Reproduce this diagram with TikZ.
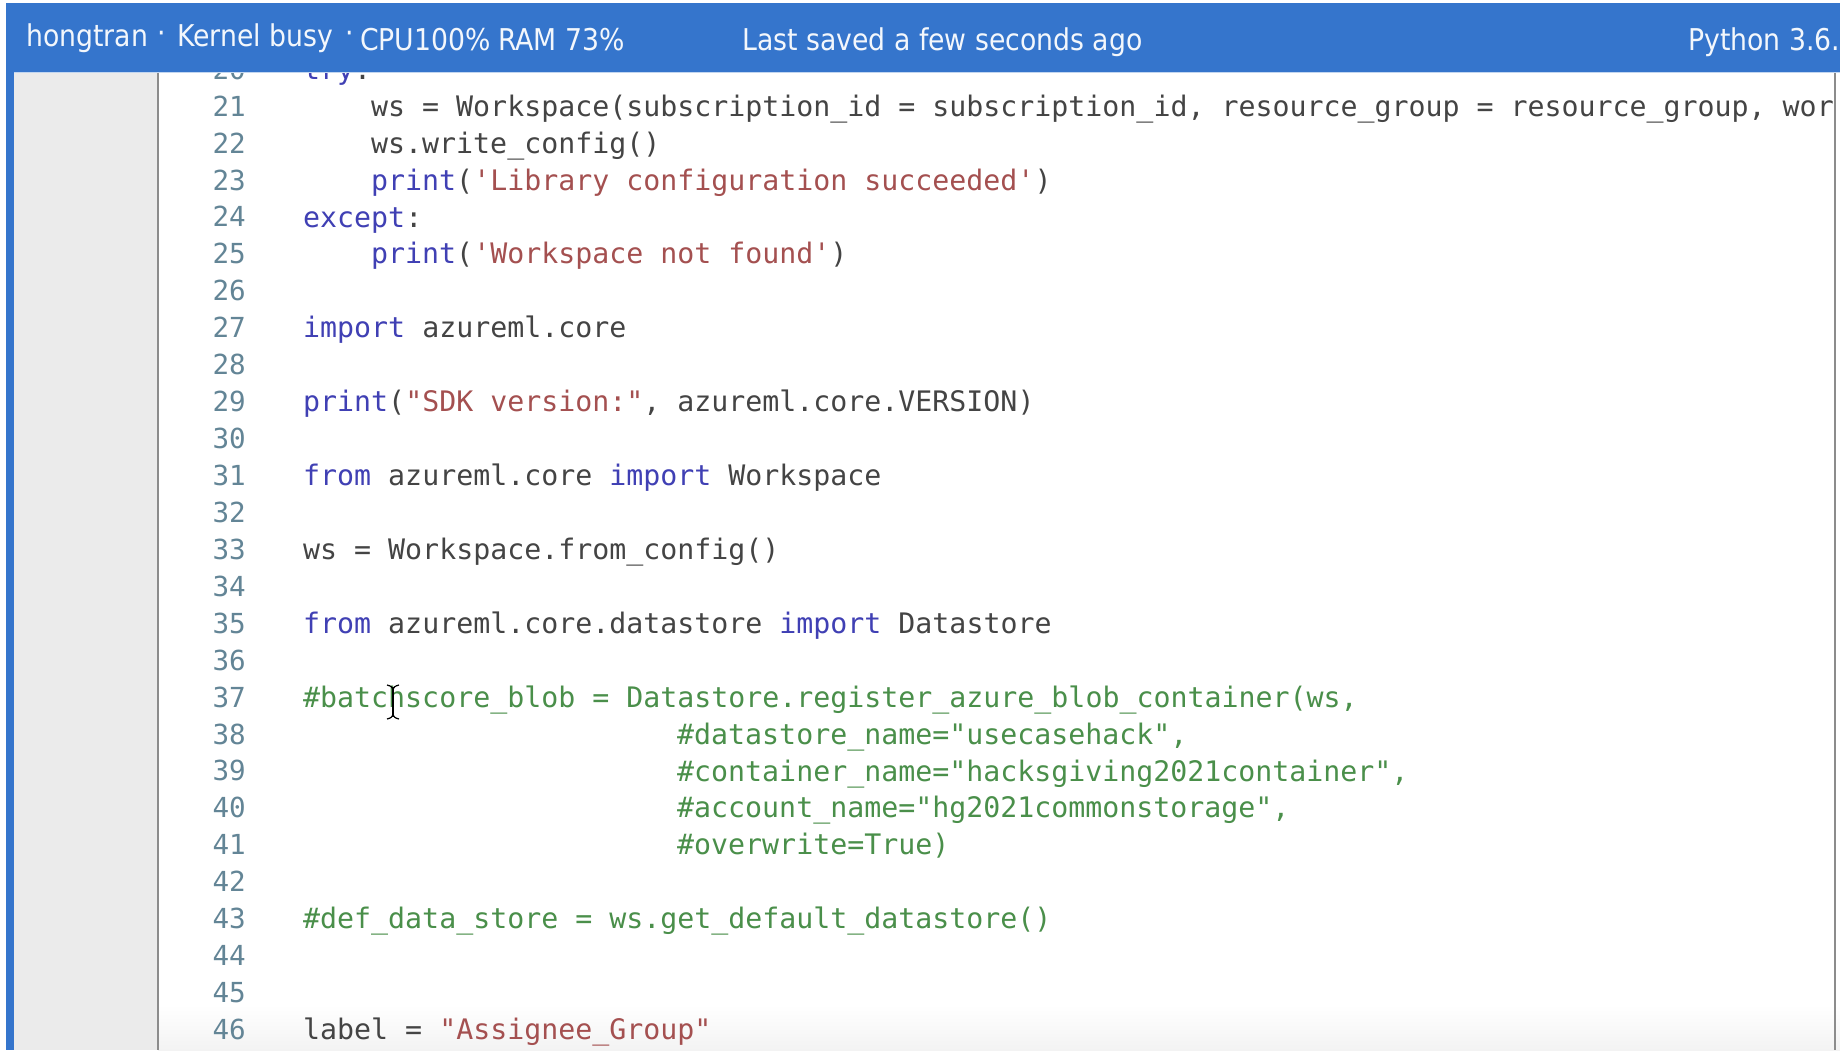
\documentclass[tikz,border=0pt]{standalone}
\usepackage{fontspec}
\usepackage{xcolor}
\setmainfont{DejaVu Sans}
\setmonofont{DejaVu Sans Mono}
\definecolor{barblue}{HTML}{3575CC}
\definecolor{guttergray}{HTML}{EBEBEB}
\definecolor{linegray}{HTML}{8C8C8C}
\definecolor{numcol}{HTML}{638596}
\definecolor{codecol}{HTML}{444444}
\definecolor{kwcol}{HTML}{4040B4}
\definecolor{strcol}{HTML}{A45050}
\definecolor{cmtcol}{HTML}{4A8F4A}
\newcommand{\kw}[1]{\textcolor{kwcol}{#1}}
\newcommand{\str}[1]{\textcolor{strcol}{#1}}
\tikzset{
  codetxt/.style={anchor=base west,inner sep=0pt,text=codecol,font=\fontsize{28.25}{34}\selectfont\ttfamily},
  cmttxt/.style={codetxt,text=cmtcol},
  numtxt/.style={anchor=base east,inner sep=0pt,text=numcol,font=\fontsize{27.6}{34}\selectfont\ttfamily},
  bartxt/.style={anchor=base west,inner sep=0pt,text=white!94!barblue,xscale=0.89,font=\fontsize{30}{36}\selectfont}
}
\begin{document}
\begin{tikzpicture}[x=1pt,y=-1pt]
  \useasboundingbox (0,0) rectangle (1840,1050);
  \fill[white] (0,0) rectangle (1840,1050);
  % window
  \shade[top color=white,bottom color=guttergray!60] (158,1005) rectangle (1840,1050);
  \fill[guttergray] (14,72) rectangle (158,1050);
  \fill[barblue] (6,72) rectangle (14,1050);
  \draw[linegray,line width=1.5pt] (158,72) -- (158,1050);
  \draw[linegray,line width=1.5pt] (1835,72) -- (1835,1050);
  % line numbers
  \foreach \n in {20,...,46} {
    \pgfmathsetmacro{\liney}{116.2+36.93*(\n-21)}
    \node[numtxt] at (246,\liney) {\n};
  }
  % code
  \node[codetxt] at (303,79.3) {\kw{try}:};
  \node[codetxt] at (371,116.2) {ws = Workspace(subscription\_id = subscription\_id, resource\_group = resource\_group, wor};
  \node[codetxt] at (371,153.1) {ws.write\_config()};
  \node[codetxt] at (371,190.1) {\kw{print}(\str{'Library configuration succeeded'})};
  \node[codetxt] at (303,227) {\kw{except}:};
  \node[codetxt] at (371,263.9) {\kw{print}(\str{'Workspace not found'})};
  \node[codetxt] at (303,337.8) {\kw{import} azureml.core};
  \node[codetxt] at (303,411.6) {\kw{print}(\str{"SDK version:"}, azureml.core.VERSION)};
  \node[codetxt] at (303,485.5) {\kw{from} azureml.core \kw{import} Workspace};
  \node[codetxt] at (303,559.4) {ws = Workspace.from\_config()};
  \node[codetxt] at (303,633.3) {\kw{from} azureml.core.datastore \kw{import} Datastore};
  \node[cmttxt] at (303,707.1) {\#batchscore\_blob = Datastore.register\_azure\_blob\_container(ws,};
  \node[cmttxt] at (677,744.1) {\#datastore\_name="usecasehack",};
  \node[cmttxt] at (677,781) {\#container\_name="hacksgiving2021container",};
  \node[cmttxt] at (677,817.9) {\#account\_name="hg2021commonstorage",};
  \node[cmttxt] at (677,854.9) {\#overwrite=True)};
  \node[cmttxt] at (303,928.7) {\#def\_data\_store = ws.get\_default\_datastore()};
  \node[codetxt] at (303,1039.5) {label = \str{"Assignee\_Group"}};
  % text cursor
  \draw[black,line width=1.2pt] (393,687) -- (393,717);
  \draw[black,line width=1.2pt] (387,685) .. controls (391,686) and (392,687) .. (393,689) .. controls (394,687) and (395,686) .. (399,685);
  \draw[black,line width=1.2pt] (387,719) .. controls (391,718) and (392,717) .. (393,715) .. controls (394,717) and (395,718) .. (399,719);
  % title bar
  \fill[barblue] (6,3) rectangle (1840,72);
  \draw[white!70!barblue,line width=1pt] (14,72) -- (1840,72);
  \node[bartxt] at (26,46) {hongtran};
  \node[bartxt] at (157,43) {·};
  \node[bartxt] at (177,46) {Kernel busy};
  \node[bartxt] at (345,43) {·};
  \node[bartxt] at (360,50) {CPU100\%};
  \node[bartxt] at (498,50) {RAM 73\%};
  \node[bartxt] at (742,50) {Last saved a few seconds ago};
  \node[bartxt] at (1688,50) {Python 3.6.};
\end{tikzpicture}
\end{document}
